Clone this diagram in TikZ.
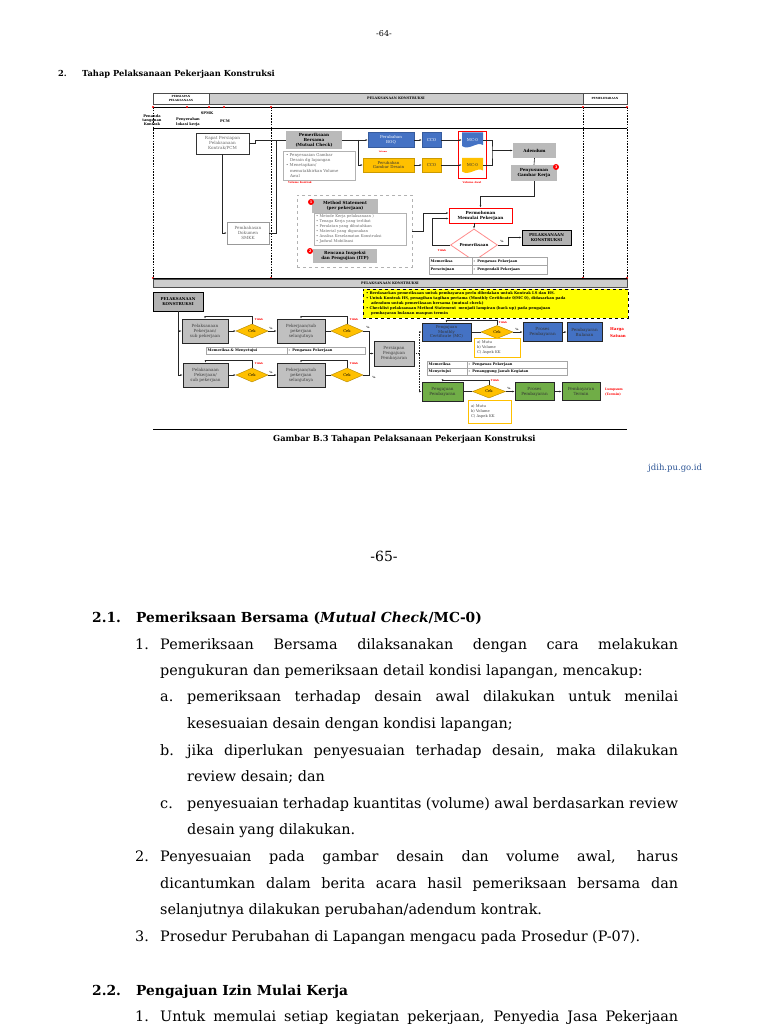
\documentclass[tikz,border=0pt]{standalone}
\usepackage{fontspec}
\setmainfont{DejaVu Serif}
\usetikzlibrary{shapes.geometric,arrows.meta,shadows}
\definecolor{hgray}{RGB}{205,205,205}
\definecolor{bgray}{RGB}{192,192,192}
\definecolor{mblue}{RGB}{68,114,196}
\definecolor{morange}{RGB}{255,192,0}
\definecolor{mgreen}{RGB}{112,173,71}
\definecolor{myellow}{RGB}{255,255,0}
\definecolor{lnkblue}{RGB}{45,85,150}
\newcommand\jline[2]{\makebox[#1pt][s]{#2}}
\begin{document}
\begin{tikzpicture}[x=1pt,y=-1pt,
 conn/.style={line width=0.6pt, draw=black!85},
 arr/.style={-{Latex[length=2.2pt,width=1.8pt]}},
 vdash/.style={line width=0.8pt, dash pattern=on 1.6pt off 1.2pt},
 hdrw/.style={draw=black!70, line width=0.4pt, fill=white, inner sep=0pt, align=center, font=\bfseries\fontsize{2.8}{3.3}\selectfont},
 hdrg/.style={draw=black!70, line width=0.4pt, fill=hgray, inner sep=0pt, align=center, font=\bfseries\fontsize{3.4}{3.8}\selectfont},
 tl/.style={inner sep=0pt, align=center, font=\bfseries\fontsize{3.6}{4.3}\selectfont},
 wbox/.style={draw=black!80, line width=0.5pt, fill=white, inner sep=0pt, align=center, text=black!60, font=\fontsize{4.2}{4.9}\selectfont},
 gbox/.style={fill=black!27, inner sep=0pt, align=center, font=\bfseries\fontsize{4.2}{4.9}\selectfont},
 bbox/.style={draw=mblue!80!black, line width=0.4pt, fill=mblue, inner sep=0pt, align=center, text=white, font=\fontsize{4}{4.7}\selectfont},
 obox/.style={draw=morange!80!black, line width=0.4pt, fill=morange, inner sep=0pt, align=center, text=black!80, font=\fontsize{4}{4.7}\selectfont},
 rlbl/.style={inner sep=0pt, text=red, font=\bfseries\fontsize{2.6}{3}\selectfont},
 ylbl/.style={inner sep=0pt, font=\fontsize{2.8}{3}\selectfont},
 numc/.style={circle, fill=red, text=white, inner sep=0pt, minimum size=6pt, font=\bfseries\fontsize{3.6}{3.6}\selectfont},
 rbox/.style={draw=red, line width=0.9pt, fill=white, inner sep=0pt, align=center, font=\bfseries\fontsize{4.2}{4.9}\selectfont, drop shadow={shadow xshift=1pt, shadow yshift=-1pt, fill=red!80}},
 kbox/.style={draw=black, line width=0.8pt, fill=black!30, inner sep=0pt, align=center, font=\bfseries\fontsize{4}{4.8}\selectfont, drop shadow={shadow xshift=1.3pt, shadow yshift=-1.3pt, fill=red}},
 cell/.style={draw=black!35, line width=0.4pt, fill=white, anchor=west, inner xsep=1.5pt, inner ysep=0pt, align=left, font=\bfseries\fontsize{3.5}{4}\selectfont},
 lbox/.style={draw=black!85, line width=0.8pt, fill=bgray, inner sep=0pt, align=center, text=black!75, font=\fontsize{4.2}{4.9}\selectfont, drop shadow={shadow xshift=0.8pt, shadow yshift=-0.8pt, fill=black!45}},
 lblue/.style={lbox, fill=mblue, text=black!80},
 lgreen/.style={lbox, fill=mgreen, text=black!80},
 cek/.style={diamond, draw=morange!70!black, line width=0.4pt, fill=morange, inner sep=0pt, minimum width=32pt, minimum height=14pt, font=\fontsize{3.8}{3.8}\selectfont},
 abc/.style={draw=morange, line width=0.8pt, fill=white, inner xsep=3pt, inner ysep=0pt, align=left, text=black!75, font=\fontsize{3.7}{5}\selectfont},
 body/.style={anchor=base west, inner sep=0pt, font=\fontsize{14.4}{17}\selectfont},
 bodyb/.style={anchor=base west, inner sep=0pt, font=\bfseries\fontsize{13.8}{17}\selectfont}
]
\path[use as bounding box] (0,0) rectangle (768,1024);
\fill[white] (0,0) rectangle (768,1024);

% ---------- page 64 ----------
\node[inner sep=0pt, font=\fontsize{8}{8}\selectfont] (p64) at (384,34) {-64-};
\node[anchor=base west, inner sep=0pt, font=\bfseries\fontsize{8.3}{9}\selectfont] (s2) at (58,77) {2.};
\node[anchor=base west, inner sep=0pt, font=\bfseries\fontsize{8.3}{9}\selectfont] (s2t) at (82,77) {Tahap Pelaksanaan Pekerjaan Konstruksi};

% header
\node[hdrw, minimum width=56pt, minimum height=11pt] (hA) at (181,98.5) {PERSIAPAN\\PELAKSANAAN};
\node[hdrg, minimum width=374pt, minimum height=11pt] (hB) at (396,98.5) {PELAKSANAAN KONSTRUKSI};
\node[hdrw, minimum width=44pt, minimum height=11pt] (hC) at (605,98.5) {PEMELIHARAAN};

% timeline
\coordinate (t0) at (153,107); \coordinate (t1) at (627,107);
\draw[line width=0.5pt] (t0) -- (t1);
\draw[line width=1pt] (153,129) -- (627,129);
\foreach \x in {153,271,583,627} \draw[vdash] (\x,107) -- (\x,278);
\foreach \x in {153,187,209,224,271,583,627} \fill[red] (\x,107) circle (1.2);
\foreach \x in {153,271,583,627} \fill[red] (\x,278) circle (1.2);
\node[tl] (lb1) at (152,120) {Penanda\\tanganan\\Kontrak};
\node[tl] (lb2) at (188,122) {Penyerahan\\lokasi kerja};
\node[tl] (lb3) at (207,113) {SPMK};
\node[tl] (lb4) at (225,121.5) {PCM};

% upper nodes
\node[wbox, minimum width=53pt, minimum height=21pt] (rapat) at (222.5,143.5) {Rapat Persiapan\\Pelaksanaan\\Kontrak/PCM};
\node[wbox, draw=black!40, minimum width=42pt, minimum height=22pt] (smkk) at (248,233) {Pembahasan\\Dokumen\\SMKK};
\node[gbox, minimum width=56pt, minimum height=18pt] (pb) at (314,140) {Pemeriksaan\\Bersama\\(Mutual Check)};
\node[wbox, draw=black!30, text width=66pt, align=left, minimum height=29pt, inner xsep=3pt, font=\fontsize{4}{5.1}\selectfont, drop shadow={shadow xshift=0.8pt, shadow yshift=-0.8pt, fill=black!30}] (pbl) at (319,165.5)
 {\textbullet\ Penyesuaian Gambar\\\hspace*{4pt}Desain dg lapangan\\\textbullet\ Menetapkan/\\\hspace*{4pt}memutakhirkan Volume\\\hspace*{4pt}Awal};
\node[rlbl] (vk) at (300,182.5) {Volume Kontrak};

\node[bbox, minimum width=46pt, minimum height=15pt] (boq) at (391,140) {Perubahan\\BOQ};
\node[rlbl, font=\bfseries\fontsize{2}{2}\selectfont] (boqn) at (383,151.5) {Volume};
\node[obox, minimum width=51pt, minimum height=14pt] (gd) at (388.5,165) {Perubahan\\Gambar Desain};
\node[bbox, minimum width=19pt, minimum height=15pt] (cco1) at (431.5,140) {CCO};
\node[obox, minimum width=19pt, minimum height=14pt] (cco2) at (431.5,165) {CCO};

\node[draw=red, line width=0.8pt, minimum width=28pt, minimum height=47pt, inner sep=0pt] (mcf) at (472,154.5) {};
\fill[mblue] (462,132.5) -- (483,132.5) -- (483,145) .. controls (477,141) and (469,151) .. (462,146) -- cycle;
\fill[morange] (462,158) -- (483,158) -- (483,170.5) .. controls (477,166.5) and (469,176.5) .. (462,171.5) -- cycle;
\node[inner sep=0pt, minimum width=21pt, minimum height=15pt, text=white, font=\fontsize{4}{4}\selectfont] (mc1) at (472.5,140) {MC-0};
\node[inner sep=0pt, minimum width=21pt, minimum height=14pt, text=black!80, font=\fontsize{4}{4}\selectfont] (mc2) at (472.5,165) {MC-0};
\node[rlbl] (va) at (472,183) {Volume Awal};

\node[gbox, minimum width=43pt, minimum height=15pt] (add) at (534.5,150.5) {Adendum};
\node[gbox, minimum width=46pt, minimum height=16pt] (gk) at (534,173) {Penyusunan\\Gambar Kerja};
\node[numc] (n3) at (556,167) {3};

\node[draw=black!30, dashed, line width=0.6pt, fill=white, minimum width=115pt, minimum height=72pt, inner sep=0pt] (ms) at (354.5,231) {};
\node[gbox, minimum width=66pt, minimum height=14pt] (mst) at (345,206) {Method Statement\\(per pekerjaan)};
\node[numc] (n1) at (311,202) {1};
\node[wbox, draw=black!30, text width=88pt, align=left, minimum height=32pt, inner xsep=2pt, font=\fontsize{3.8}{5}\selectfont, drop shadow={shadow xshift=0.8pt, shadow yshift=-0.8pt, fill=black!30}] (msl) at (360,229)
 {\textbullet\ Metode Kerja pelaksanaan )\\\textbullet\ Tenaga Kerja yang terlibat\\\textbullet\ Peralatan yang dibutuhkan\\\textbullet\ Material yang digunakan\\\textbullet\ Analisa Keselamatan Konstruksi\\\textbullet\ Jadwal Mobilisasi};
\node[gbox, minimum width=64pt, minimum height=14pt] (itp) at (345,256) {Rencana Inspeksi\\dan Pengujian (ITP)};
\node[numc] (n2) at (310,251) {2};

\node[rbox, minimum width=63pt, minimum height=15pt] (perm) at (480.5,215.5) {Permohonan\\Memulai Pekerjaan};
\node[diamond, draw=red!45, line width=0.8pt, fill=white, minimum width=47pt, minimum height=17pt, inner sep=0pt, font=\bfseries\fontsize{4}{4}\selectfont] (pem) at (474,245) {Pemeriksaan};
\node[kbox, minimum width=49pt, minimum height=15pt] (pk1) at (546.5,237.5) {PELAKSANAAN\\KONSTRUKSI};
\node[cell, text width=40pt, minimum height=8.5pt] (t1a) at (429,261.3) {Memeriksa};
\node[cell, text width=72pt, minimum height=8.5pt] (t1b) at (472,261.3) {:\ \ Pengawas Pekerjaan};
\node[cell, text width=40pt, minimum height=8.5pt] (t1c) at (429,269.8) {Persetujuan};
\node[cell, text width=72pt, minimum height=8.5pt] (t1d) at (472,269.8) {:\ \ Pengendali Pekerjaan};

% upper connectors
\draw[conn] (rapat.east) -- ++(6,0) |- (pb.west);
\coordinate (j1) at (276,140);
\draw[conn] (smkk.east) -| (j1);
\draw[conn,arr] (rapat.south) |- (smkk.west);
\draw[conn] (pb.east) -- (358,140) coordinate (j2);
\draw[conn,arr] (j2) -- (boq.west);
\draw[conn,arr] (j2) |- (gd.west);
\draw[conn,arr] (boq) -- (cco1);
\draw[conn,arr] (gd) -- (cco2);
\draw[conn,arr] (cco1) -- (mc1);
\draw[conn,arr] (cco2) -- (mc2);
\draw[conn] (mc1.east) -| (492,152) |- (mc2.east);
\coordinate (j4) at (492,150.5);
\draw[conn,arr] (j4) -- (add.west);
\draw[conn] (add.south) -- (gk.north);
\draw[conn,arr] (gk.south) -- ++(0,15) -| (perm.north);
\draw[conn,arr] (ms.east) -- ++(11,0) |- ([yshift=2.5pt]perm.west);
\draw[conn,arr] (pem.north |- perm.south) -- (pem.north);
\draw[conn,arr] (pem.west) -- ++(-18,0) |- ([yshift=-3pt]perm.west);
\draw[conn,arr] (pem.east) -- ++(10,0) |- (pk1.west);
\node[rlbl] (tdk0) at (442,251) {Tidak};
\node[ylbl] (ya0) at (502,241.5) {Ya};

% ---------- lower section ----------
\draw[line width=1pt] (153,278) -- (627,278);
\node[hdrg, minimum width=474pt, minimum height=8.5pt] (h2) at (390,283) {PELAKSANAAN KONSTRUKSI};
\node[draw=black, dashed, line width=0.8pt, fill=myellow, minimum height=29pt, text width=259pt, inner xsep=3pt, inner ysep=0pt, align=left, font=\bfseries\fontsize{3.7}{5.2}\selectfont] (note) at (495.5,303.5)
 {\textbullet\ Berdasarkan pemeriksaan untuk pembayaran perlu dibedakan untuk Kontrak LS dan HS.\\
  \textbullet\ Untuk Kontrak HS, penagihan tagihan pertama (Monthly Certificate 0/MC 0), didasarkan pada\\
  \hspace*{5pt}adendum untuk pemeriksaan bersama (mutual check)\\
  \textbullet\ Checklist pelaksanaan Method Statement\ \ menjadi lampiran (back up) pada pengajuan\\
  \hspace*{5pt}pembayaran bulanan maupun termin};

\node[kbox, minimum width=50pt, minimum height=19pt] (pk2) at (178,301.5) {PELAKSANAAN\\KONSTRUKSI};

\node[lbox, minimum width=46pt, minimum height=24pt] (r1b1) at (205,331) {Pelaksanaan\\Pekerjaan/\\sub pekerjaan};
\node[cek] (r1d1) at (252,331) {Cek};
\node[lbox, minimum width=48pt, minimum height=24pt] (r1b2) at (301,331) {Pekerjaan/sub\\pekerjaan\\selanjutnya};
\node[cek] (r1d2) at (347,331) {Cek};
\node[lbox, minimum width=45pt, minimum height=24pt] (r2b1) at (205.5,375) {Pelaksanaan\\Pekerjaan/\\sub pekerjaan};
\node[cek] (r2d1) at (252,375) {Cek};
\node[lbox, minimum width=48pt, minimum height=24pt] (r2b2) at (301,375) {Pekerjaan/sub\\pekerjaan\\selanjutnya};
\node[cek] (r2d2) at (347,375) {Cek};
\node[cell, text width=78pt, minimum height=7.5pt] (t2a) at (206,350.5) {Memeriksa \& Menyetujui};
\node[cell, text width=75pt, minimum height=7.5pt] (t2b) at (287,350.5) {:\ \ Pengawas Pekerjaan};
\node[lbox, minimum width=40pt, minimum height=25pt] (pp) at (394,353.5) {Persiapan\\Pengajuan\\Pembayaran};

\draw[conn,arr] (pk2.south) |- (r1b1.west);
\draw[conn,arr] (pk2.south) |- (r2b1.west);
\draw[conn,arr] (r1b1) -- (r1d1);
\draw[conn,arr] (r1d1) -- (r1b2);
\draw[conn,arr] (r1d1.north) -- ++(0,-8) -| (r1b1.north);
\draw[conn] (r1b2) -- (r1d2);
\draw[conn,arr] (r1d2.north) -- ++(0,-8) -| (r1b2.north);
\draw[conn,arr] (r2b1) -- (r2d1);
\draw[conn,arr] (r2d1) -- (r2b2);
\draw[conn,arr] (r2d1.north) -- ++(0,-8) -| (r2b1.north);
\draw[conn] (r2b2) -- (r2d2);
\draw[conn,arr] (r2d2.north) -- ++(0,-8) -| (r2b2.north);
\draw[conn] (r1d2.east) -| (369,353.5) coordinate (j5);
\draw[conn] (r2d2.east) -| (j5);
\draw[conn,arr] (j5) -- (pp.west);
\node[rlbl] (tdk1) at (259,319.5) {Tidak};
\node[rlbl] (tdk2) at (354,319.5) {Tidak};
\node[rlbl] (tdk3) at (259,363.5) {Tidak};
\node[rlbl] (tdk4) at (354,363.5) {Tidak};
\node[ylbl] (ya1) at (271,328) {Ya};
\node[ylbl] (ya2) at (368,327) {Ya};
\node[ylbl] (ya3) at (271,372) {Ya};
\node[ylbl] (ya4) at (374,377.5) {Ya};

% payment part
\node[lblue, minimum width=49pt, minimum height=18pt, font=\fontsize{4}{4.6}\selectfont] (mc) at (446.5,332) {Pengajuan\\Monthly\\Certificate (MC)};
\node[cek, minimum width=32pt, minimum height=13pt] (mcd) at (497,332) {Cek};
\node[abc, text width=40pt, minimum height=19pt] (abc1) at (497,347.5) {a) Mutu\\b) Volume\\C) Aspek KK};
\node[lblue, minimum width=39pt, minimum height=19pt] (pr1) at (542.5,332) {Proses\\Pembayaran};
\node[lblue, minimum width=35pt, minimum height=19pt] (pb1) at (584.5,332) {Pembayaran\\Bulanan};
\node[inner sep=0pt, align=left, text=red, font=\bfseries\fontsize{4}{7}\selectfont] (hs) at (618,333) {Harga\\Satuan};
\node[cell, text width=37pt, minimum height=7pt] (t3a) at (427,364.5) {Memeriksa};
\node[cell, text width=97pt, minimum height=7pt] (t3b) at (467,364.5) {:\ \ Pengawas Pekerjaan};
\node[cell, text width=37pt, minimum height=7pt] (t3c) at (427,371.5) {Menyetujui};
\node[cell, text width=97pt, minimum height=7pt] (t3d) at (467,371.5) {:\ \ Penanggung Jawab Kegiatan};
\node[lgreen, minimum width=41pt, minimum height=19pt] (pj) at (442.5,391.5) {Pengajuan\\Pembayaran};
\node[cek, minimum width=33pt, minimum height=13pt] (pjd) at (489,391.5) {Cek};
\node[lgreen, minimum width=39pt, minimum height=18pt] (pr2) at (534.5,391.5) {Proses\\Pembayaran};
\node[lgreen, minimum width=38pt, minimum height=18pt] (pt) at (581,391.5) {Pembayaran\\Termin};
\node[inner sep=0pt, align=left, text=red, font=\bfseries\fontsize{3.2}{5}\selectfont] (ls) at (614,392) {Lumpsum\\(Termin)};
\node[abc, text width=37pt, minimum height=23pt] (abc2) at (489.5,411.5) {a) Mutu\\b) Volume\\C) Aspek KK};

\draw[conn, densely dotted] (pp.east) -- (419,353.5) coordinate (j6);
\draw[conn, densely dotted,arr] (j6) |- (mc.west);
\draw[conn, densely dotted,arr] (j6) |- (pj.west);
\draw[conn] (mc) -- (mcd);
\draw[conn,arr] (mcd.north) -- ++(0,-5) -| (mc.north);
\draw[conn,arr] (mcd) -- (pr1);
\draw[conn,arr] (pr1) -- (pb1);
\draw[conn] (pj) -- (pjd);
\draw[conn,arr] (pjd.north) -- ++(0,-5) -| (pj.north);
\draw[conn,arr] (pjd) -- (pr2);
\draw[conn,arr] (pr2) -- (pt);
\node[rlbl] (tdk5) at (503,322.5) {Tidak};
\node[rlbl] (tdk6) at (495,381) {Tidak};
\node[ylbl] (ya5) at (517,329) {Ya};
\node[ylbl] (ya6) at (509,388.5) {Ya};

\draw[line width=1pt] (153,429) -- (627,429);
\node[anchor=base west, inner sep=0pt, font=\bfseries\fontsize{8.3}{9}\selectfont] (cap) at (273,441) {Gambar B.3 Tahapan Pelaksanaan Pekerjaan Konstruksi};
\node[anchor=base west, inner sep=0pt, text=lnkblue, font=\fontsize{8.5}{9}\selectfont] (jdih) at (648,470) {jdih.pu.go.id};

% ---------- page 65 ----------
\node[inner sep=0pt, font=\fontsize{14}{14}\selectfont] (p65) at (384,556) {-65-};
\node[bodyb] (h21n) at (92,622) {2.1.};
\node[bodyb] (h21) at (136,622) {Pemeriksaan Bersama (\textit{Mutual Check}/MC-0)};
\node[body] (n1a) at (135,649) {1.};
\node[body] (l1) at (160,649) {\jline{518}{Pemeriksaan Bersama dilaksanakan dengan cara melakukan}};
\node[body] (l2) at (160,675) {pengukuran dan pemeriksaan detail kondisi lapangan, mencakup:};
\node[body] (na) at (160,701) {a.};
\node[body] (l3) at (187,701) {\jline{491}{pemeriksaan terhadap desain awal dilakukan untuk menilai}};
\node[body] (l4) at (187,728) {kesesuaian desain dengan kondisi lapangan;};
\node[body] (nb) at (160,755) {b.};
\node[body] (l5) at (187,755) {\jline{491}{jika diperlukan penyesuaian terhadap desain, maka dilakukan}};
\node[body] (l6) at (187,781) {review desain; dan};
\node[body] (nc) at (160,808) {c.};
\node[body] (l7) at (187,808) {\jline{491}{penyesuaian terhadap kuantitas (volume) awal berdasarkan review}};
\node[body] (l8) at (187,834) {desain yang dilakukan.};
\node[body] (n2a) at (135,861) {2.};
\node[body] (l9) at (160,861) {\jline{518}{Penyesuaian pada gambar desain dan volume awal, harus}};
\node[body] (l10) at (160,888) {\jline{518}{dicantumkan dalam berita acara hasil pemeriksaan bersama dan}};
\node[body] (l11) at (160,914) {selanjutnya dilakukan perubahan/adendum kontrak.};
\node[body] (n3a) at (135,941) {3.};
\node[body] (l12) at (160,941) {Prosedur Perubahan di Lapangan mengacu pada Prosedur (P-07).};
\node[bodyb] (h22n) at (92,995) {2.2.};
\node[bodyb] (h22) at (136,995) {Pengajuan Izin Mulai Kerja};
\node[body] (n1b) at (135,1021) {1.};
\node[body] (l13) at (160,1021) {\jline{518}{Untuk memulai setiap kegiatan pekerjaan, Penyedia Jasa Pekerjaan}};
\end{tikzpicture}
\end{document}
